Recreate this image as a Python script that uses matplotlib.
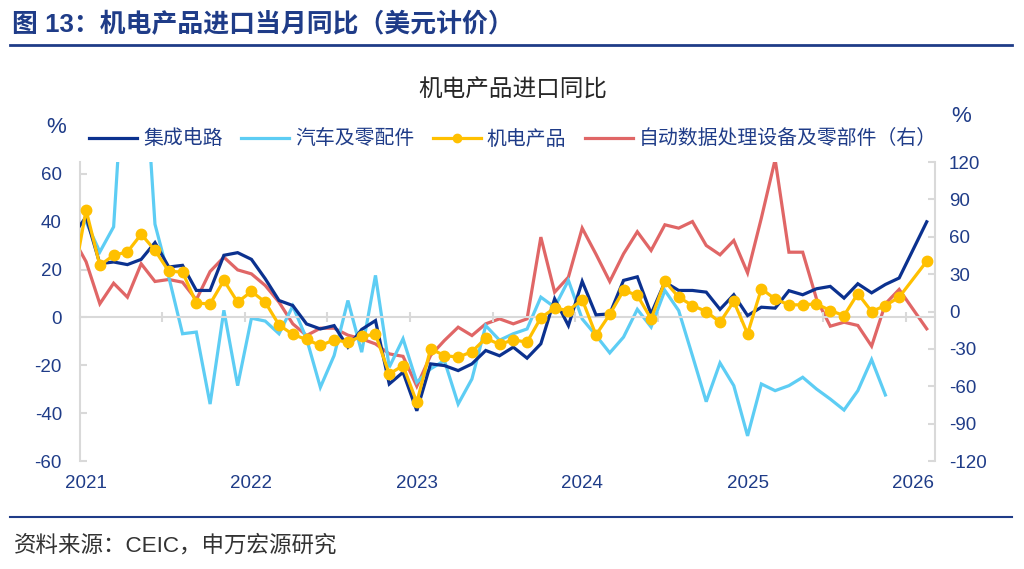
import numpy as np
import matplotlib
matplotlib.use("Agg")
import matplotlib.pyplot as plt
from matplotlib.lines import Line2D
from matplotlib.transforms import blended_transform_factory

plt.rcParams['font.family'] = ['Liberation Sans', 'Noto Sans CJK SC']
plt.rcParams['axes.unicode_minus'] = False

# Months from 2020-12 to 2026-02 (2020-12 lies just left of the visible axis)
months = ['2020-12'] + [f'{y}-{m:02d}' for y in range(2021, 2026) for m in range(1, 13)] + ['2026-01', '2026-02']
year_labels = ['2021', '2022', '2023', '2024', '2025', '2026']

nan = np.nan
# 集成电路 (left axis, %)
ic = [34, 42, 22.5, 23.2, 22.1, 24.3, 31.3, 21.1, 21.8, 11.3, 11.3, 26,
      27.1, 24.3, 16.2, 7.1, 5, -2.7, -4.8, -3.4, -12.4, -5, -1.3, -27.8,
      -22.9, -39, -19.4, -20.1, -22.2, -19.4, -13.8, -16, -12.4, -17, -11, 7.8,
      -3.4, 15.1, 1.1, 1.5, 15.5, 17, 1.5, 14.8, 11.3, 11.3, 10.6, 3.4,
      9.5, 0.8, 4.3, 3.9, 11.2, 9.5, 12, 13, 8.1, 14.1, 10.3, 13.8,
      16.5, nan, 40]
# 汽车及零配件 (left axis, %)
auto = [38, 40, 27.4, 37.9, 130, 128, 39, 17, -6.8, -6.1, -36.2, 3,
        -28.5, -0.3, -1.5, -6.8, 4.8, -8.9, -29.2, -15.9, 7.1, -14.5, 17.6, -20.8,
        -8.9, -27.1, -21.5, -18, -36.2, -25.7, -3.4, -9.5, -6.8, -4.8, 8.5, 4.3,
        15.5, -0.6, -7.5, -14.8, -8.2, 3.4, -4, 11.3, 2.9, -16, -35.2, -19,
        -28.5, -49.5, -27.8, -30.6, -28.5, -25, -29.9, -34.1, -38.7, -30.6, -17.6, -32.4,
        nan, nan, nan]
# 机电产品 (left axis, %)
mech = [13, 44.9, 21.8, 26, 27.4, 34.8, 28.1, 19.3, 19, 6, 5.7, 15.5,
        6.4, 10.9, 6.4, -3.1, -7.1, -9.2, -11.7, -9.4, -10.3, -7.8, -7.1, -23.6,
        -20.1, -35.5, -13.1, -15.9, -16.6, -14.3, -8.7, -11.2, -9.4, -10.3, -0.1, 3.9,
        2.9, 7.5, -7.3, 1.3, 11.3, 9.3, -0.6, 15.1, 8.5, 5.0, 2.5, -2,
        6.7, -6.8, 12, 7.7, 5.3, 5.3, 5.7, 2.9, 0.8, 10, 2.5, 5,
        8.5, nan, 23.5]
# 自动数据处理设备及零部件 (right axis, %)
adp = [60, 40, 6.2, 22.7, 11.5, 38.3, 24.1, 25.7, 23.5, 9.4, 32.1, 43.6,
       33.4, 30.2, 20.9, 7.5, -9.9, -19.3, -13.4, -13.4, -19, -22, -26, -34,
       -36, -60, -35.3, -23.3, -12.6, -19.3, -9.9, -5.9, -9.9, -5.9, 59.7, 15.5,
       27.6, 66.9, 46, 24.1, 46.3, 64, 49, 69.6, 66.9, 72.2, 53, 45.5,
       57, 31, 75, 122, 47.6, 47.6, 10.2, -11.8, -8.6, -11.2, -27.8, 6.2,
       17.7, nan, -13.9]

x = np.arange(len(months)) - 1  # 0 = 2021-01

NAVY = '#0B318F'
CYAN = '#5DCDF4'
YELLOW = '#FFC000'
RED = '#E06666'
TXT = '#1F3C88'
GRID = '#D9D9D9'

W, H = 1024, 569
fig = plt.figure(figsize=(W / 100, H / 100), dpi=100)
ax = fig.add_axes([80 / W, 1 - 461 / H, (935 - 80) / W, (461 - 162) / H])
ax2 = ax.twinx()

def series(vals):
    v = np.array(vals, dtype=float)
    m = ~np.isnan(v)
    return x[m], v[m]

lw = 2.3
xa, ya = series(auto)
ax.plot(xa, ya, color=CYAN, lw=lw, zorder=2, solid_joinstyle='miter')
xi, yi = series(ic)
ax.plot(xi, yi, color=NAVY, lw=lw, zorder=3, solid_joinstyle='miter')
xm, ym = series(mech)
ax.plot(xm, ym, color=YELLOW, lw=lw, marker='o', markersize=7.5, zorder=4)
xr, yr = series(adp)
ax2.plot(xr, yr, color=RED, lw=lw, zorder=2, solid_joinstyle='miter')

ax.set_xlim(-0.44, 61.6)
ax.set_ylim(-60, 65)
ax2.set_ylim(-120, 120)
ax.set_yticks(np.arange(-60, 61, 20))
ax2.set_yticks(np.arange(-120, 121, 30))
ax.set_zorder(ax2.get_zorder() + 1)
ax.patch.set_visible(False)

for s in ['top']:
    ax.spines[s].set_visible(False)
    ax2.spines[s].set_visible(False)
ax2.spines['bottom'].set_visible(False)
ax2.spines['left'].set_visible(False)
ax.spines['right'].set_visible(False)
ax.spines['left'].set_color(GRID)
ax.spines['left'].set_linewidth(1.5)
ax2.spines['right'].set_color(GRID)
ax2.spines['right'].set_linewidth(1.5)
ax.spines['bottom'].set_position(('data', 0))
ax.spines['bottom'].set_color(GRID)
ax.spines['bottom'].set_linewidth(1.5)

ax.set_xticks(np.arange(5.5, 61, 6))
ax.set_xticklabels([])
ax.tick_params(axis='x', direction='inout', length=7, color=GRID, width=1.5)
ax.tick_params(axis='y', direction='in', length=5, color=GRID, width=1.5,
               labelsize=13.5, labelcolor=TXT, pad=13)
ax2.tick_params(axis='y', direction='in', length=5, color=GRID, width=1.5,
                labelsize=13.5, labelcolor=TXT, pad=10)

trans = blended_transform_factory(ax.transData, fig.transFigure)
for k, lab in enumerate(year_labels):
    ax.text(12 * k, 1 - 484 / H, lab, transform=trans, ha='center', va='center',
            fontsize=13.5, color=TXT)

# texts
fig.text(12 / W, 1 - 25 / H, '图 13：机电产品进口当月同比（美元计价）', fontsize=18.6,
         fontweight='bold', color=TXT, ha='left', va='center')
fig.add_artist(Line2D([10 / W, 1012 / W], [1 - 45 / H, 1 - 45 / H], color=TXT, lw=2))
fig.text(513 / W, 1 - 91 / H, '机电产品进口同比', fontsize=17, color='#262626',
         ha='center', va='center')
fig.text(56 / W, 1 - 127 / H, '%', fontsize=16, color=TXT, ha='center', va='center')
fig.text(961 / W, 1 - 117 / H, '%', fontsize=16, color=TXT, ha='center', va='center')
fig.add_artist(Line2D([10 / W, 1012 / W], [1 - 517 / H, 1 - 517 / H], color=TXT, lw=1.5))
fig.text(14 / W, 1 - 546 / H, '资料来源：CEIC，申万宏源研究', fontsize=16.2, color='#333333',
         ha='left', va='center')

handles = [Line2D([], [], color=NAVY, lw=lw),
           Line2D([], [], color=CYAN, lw=lw),
           Line2D([], [], color=YELLOW, lw=lw, marker='o', markersize=6),
           Line2D([], [], color=RED, lw=lw)]
labels = ['集成电路', '汽车及零配件', '机电产品', '自动数据处理设备及零部件（右）']
fig.legend(handles, labels, loc='center', bbox_to_anchor=(513 / W, 1 - 139 / H), ncol=4,
           frameon=False, fontsize=14.3, handlelength=2.4, handletextpad=0.3,
           columnspacing=0.95, labelcolor=TXT, borderaxespad=0, borderpad=0)

fig.savefig('out.png', dpi=100)
